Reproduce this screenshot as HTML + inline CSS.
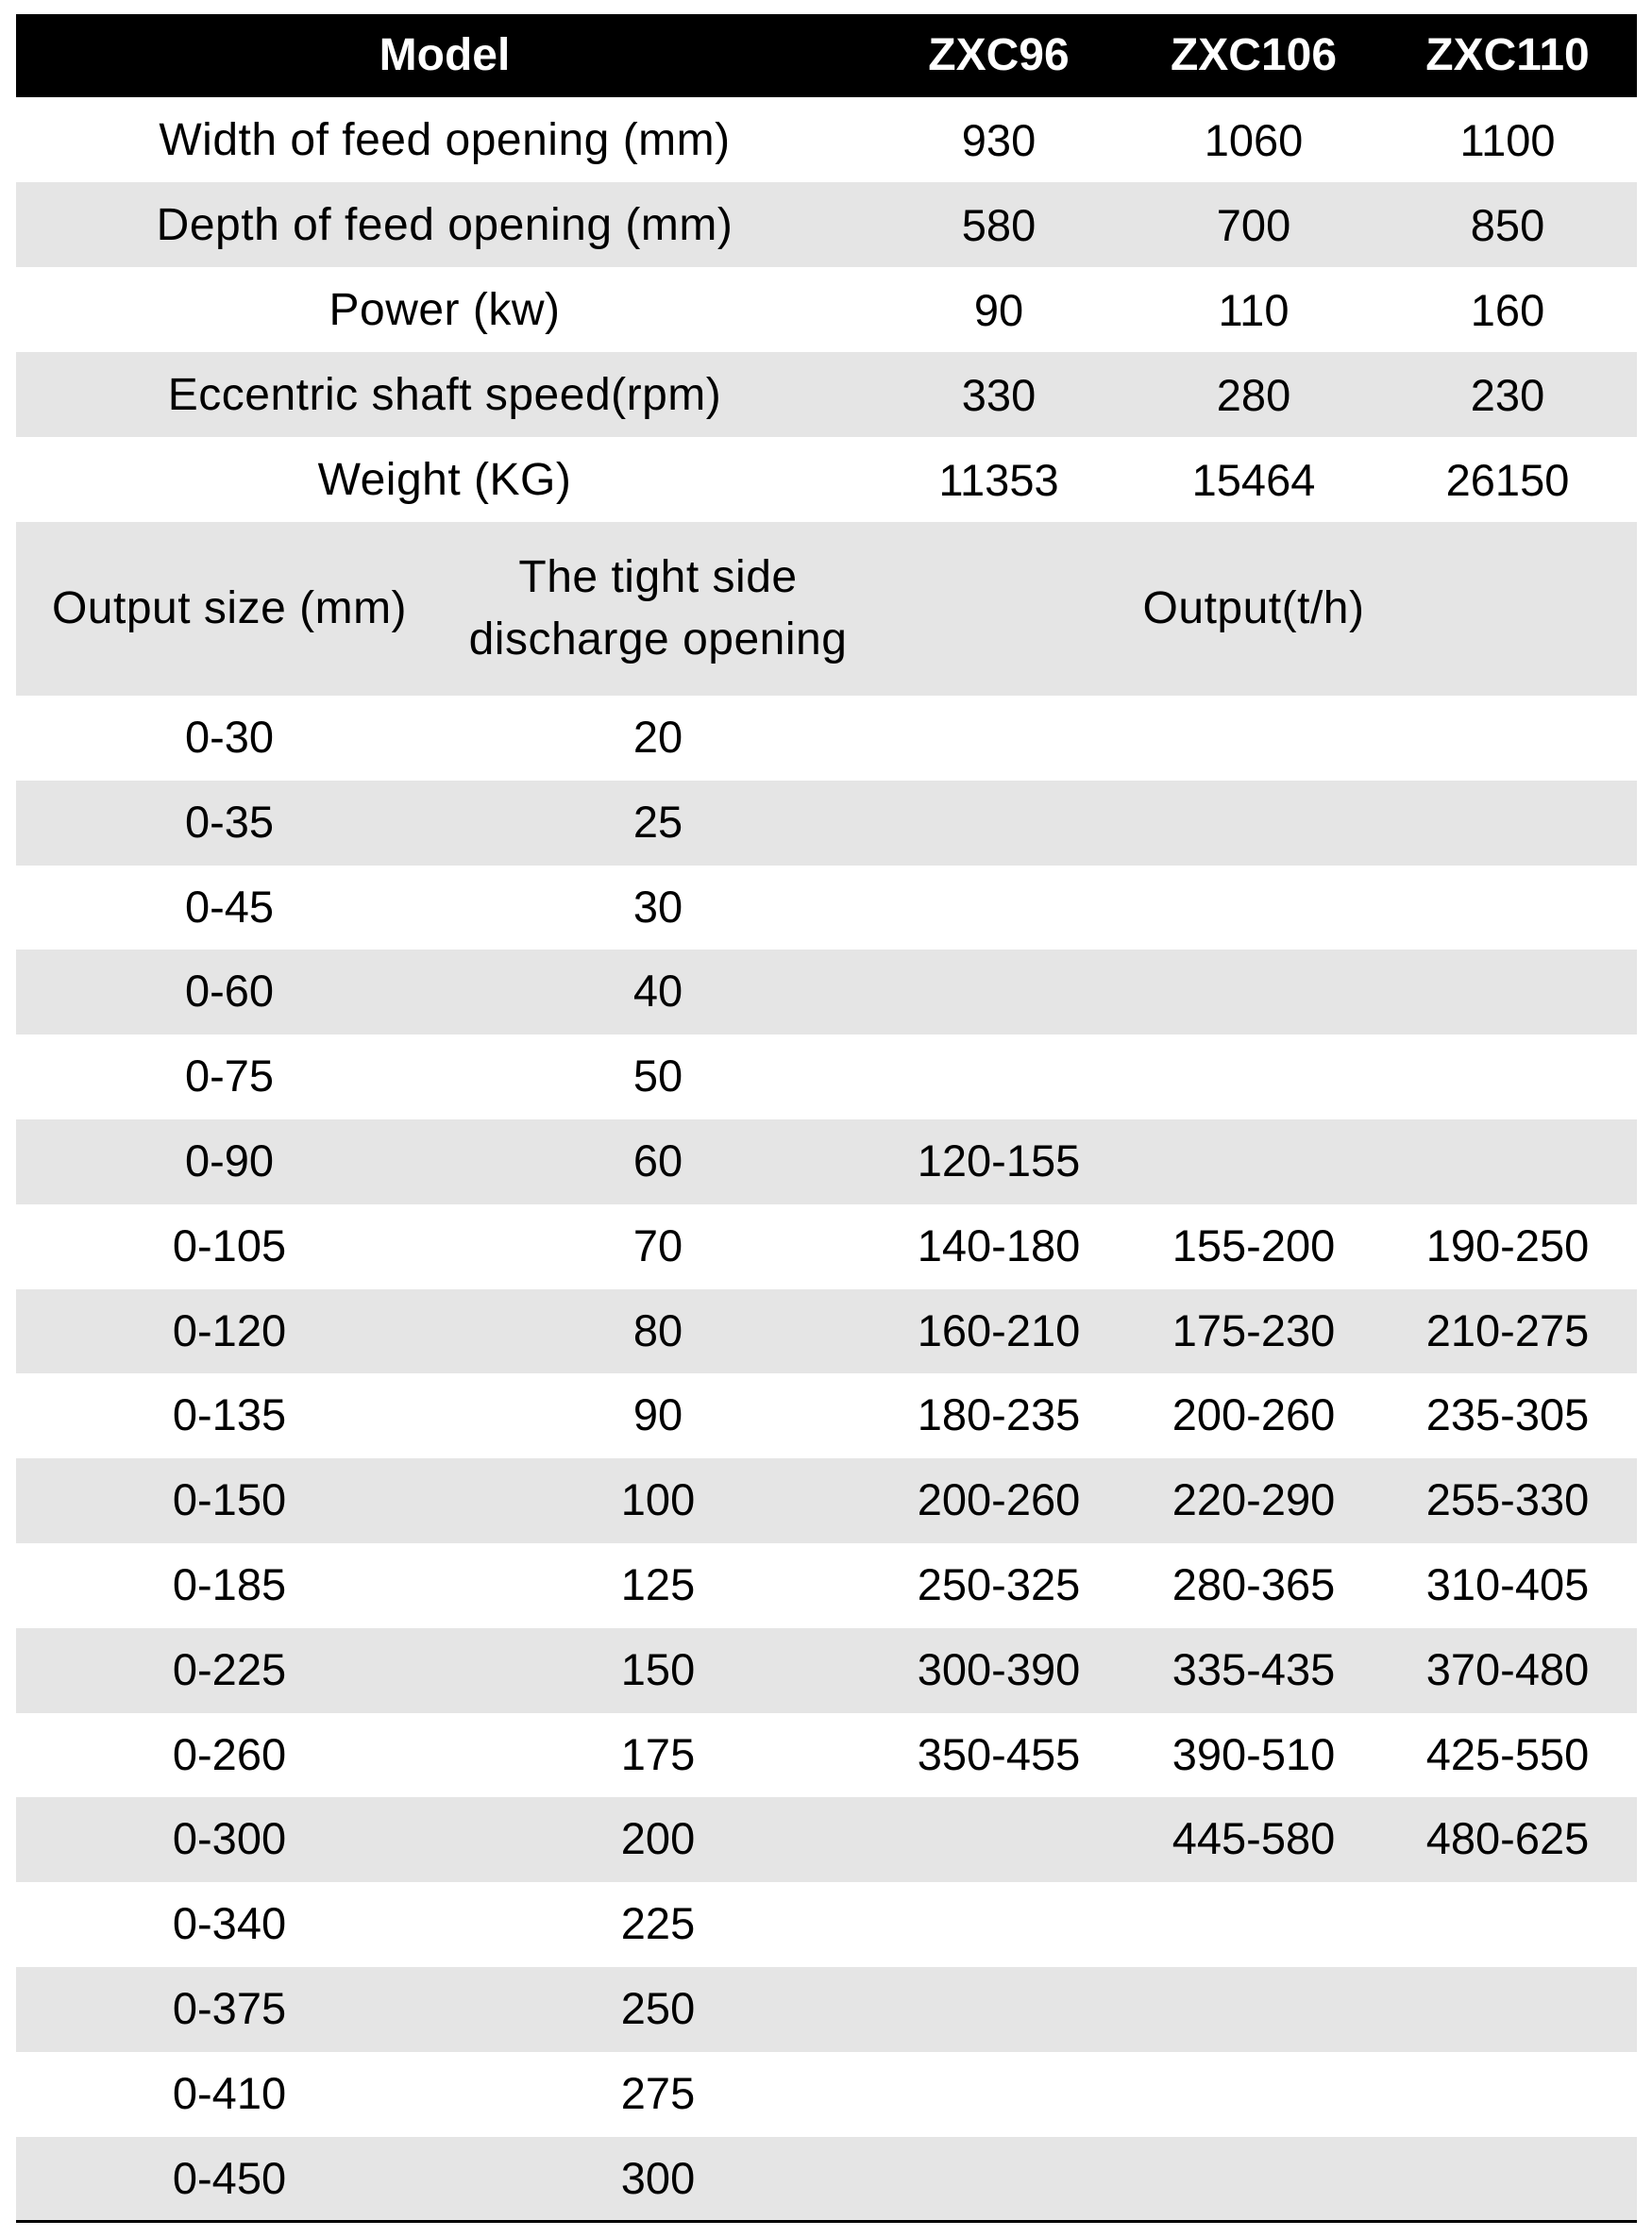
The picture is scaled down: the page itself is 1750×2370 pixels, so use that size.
<!DOCTYPE html>
<html><head><style>
html,body{margin:0;padding:0;background:#fff;width:1750px;height:2370px;overflow:hidden}
.r{position:absolute;left:17px;width:1717px}
.g{background:#e5e5e5}
.t{position:absolute;transform:translate(-50%,-50%);white-space:nowrap;font-family:"Liberation Sans",sans-serif;font-size:47px;color:#000;text-align:center;line-height:1.5}
.w{font-size:48px;letter-spacing:0.5px}
.h{color:#fff;font-weight:bold;font-size:48px}
</style></head><body>
<div class="r" style="top:15px;height:88px;background:#000"></div>
<div class="t h" style="left:471px;top:59px">Model</div>
<div class="t h" style="left:1058px;top:59px">ZXC96</div>
<div class="t h" style="left:1328px;top:59px">ZXC106</div>
<div class="t h" style="left:1597px;top:59px">ZXC110</div>
<div id="spec"></div>
<div class="r g" style="top:553px;height:184px"></div>
<div class="t w" style="left:243px;top:645px">Output size (mm)</div>
<div class="t w" style="left:697px;top:645px;line-height:66px">The tight side<br>discharge opening</div>
<div class="t w" style="left:1328px;top:645px">Output(t/h)</div>
<div id="data"></div>
<div class="r" style="top:2352px;height:3px;background:#000"></div>
<script>
var spec=[["Width of feed opening (mm)","930","1060","1100"],["Depth of feed opening (mm)","580","700","850"],["Power (kw)","90","110","160"],["Eccentric shaft speed(rpm)","330","280","230"],["Weight (KG)","11353","15464","26150"]];
var h="";
spec.forEach(function(s,i){var top=103+i*90;if(i%2)h+='<div class="r g" style="top:'+top+'px;height:90px"></div>';var c=top+46;var xs=[471,1058,1328,1597];s.forEach(function(v,j){h+='<div class="t'+(j==0?' w':'')+'" style="left:'+xs[j]+'px;top:'+c+'px">'+v+'</div>';});});
document.getElementById("spec").innerHTML=h;
var d=[["0-30","20"],["0-35","25"],["0-45","30"],["0-60","40"],["0-75","50"],["0-90","60","120-155"],["0-105","70","140-180","155-200","190-250"],["0-120","80","160-210","175-230","210-275"],["0-135","90","180-235","200-260","235-305"],["0-150","100","200-260","220-290","255-330"],["0-185","125","250-325","280-365","310-405"],["0-225","150","300-390","335-435","370-480"],["0-260","175","350-455","390-510","425-550"],["0-300","200","","445-580","480-625"],["0-340","225"],["0-375","250"],["0-410","275"],["0-450","300"]];
h="";
d.forEach(function(s,i){var top=737+i*89.8;if(i%2)h+='<div class="r g" style="top:'+top+'px;height:89.8px"></div>';var c=top+44;var xs=[243,697,1058,1328,1597];s.forEach(function(v,j){if(v)h+='<div class="t" style="left:'+xs[j]+'px;top:'+c+'px">'+v+'</div>';});});
document.getElementById("data").innerHTML=h;
</script>
</body></html>
